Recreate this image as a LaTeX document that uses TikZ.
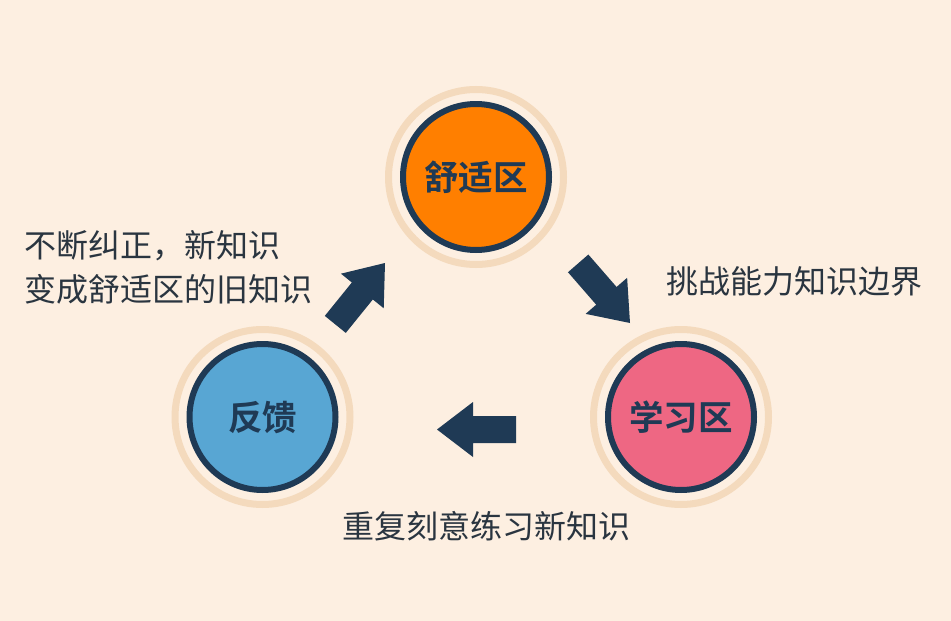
\documentclass[tikz,border=0pt]{standalone}
\usepackage{fontspec}
\newfontfamily\cjk{Noto Sans CJK SC}[BoldFont={Noto Sans CJK SC Bold}]
\definecolor{bg}{HTML}{FDEFE1}
\definecolor{halo}{HTML}{F4DABD}
\definecolor{navy}{HTML}{1F3A55}
\definecolor{orangez}{HTML}{FF7F00}
\definecolor{bluez}{HTML}{58A6D3}
\definecolor{pinkz}{HTML}{EE6783}
\definecolor{txt}{HTML}{2A3540}
\begin{document}
\begin{tikzpicture}[x=1pt,y=-1pt,
  zone/.style={circle, draw=navy, line width=6pt, minimum size=146pt, inner sep=0pt},
  halo/.style={draw=halo, line width=7pt},
  zonelabel/.style={font=\cjk\bfseries\fontsize{34.5}{34.5}\selectfont, text=navy, inner sep=0pt, anchor=base},
  note/.style={font=\cjk\fontsize{32}{32}\selectfont, text=txt, inner sep=0pt, anchor=base west},
  blockarrow/.style={fill=navy}
]
\fill[bg] (0,0) rectangle (951,621);
\useasboundingbox (0,0) rectangle (951,621);
% halos
\draw[halo] (476,177) circle[radius=87.5];
\draw[halo] (262.5,417) circle[radius=87.5];
\draw[halo] (681,417) circle[radius=87.5];
% zones
\node[zone, fill=orangez] (comfort) at (476,177) {};
\node[zone, fill=bluez] (feedback) at (262.5,417) {};
\node[zone, fill=pinkz] (learn) at (681,417) {};
\node[zonelabel] (comfortL) at (476,190) {舒适区};
\node[zonelabel] (feedbackL) at (262.5,430) {反馈};
\node[zonelabel] (learnL) at (681,430) {学习区};
% block arrows
\path[blockarrow, shift={(385,263)}, rotate=51]
  (0,0) -- (-36,27.5) -- (-36,13.5) -- (-79,13.5) -- (-79,-13.5) -- (-36,-13.5) -- (-36,-27.5) -- cycle;
\path[blockarrow, shift={(630,323)}, rotate=-49]
  (0,0) -- (-36,27.5) -- (-36,13.5) -- (-79,13.5) -- (-79,-13.5) -- (-36,-13.5) -- (-36,-27.5) -- cycle;
\path[blockarrow, shift={(437,429.5)}, rotate=180]
  (0,0) -- (-36,27.5) -- (-36,13.5) -- (-79,13.5) -- (-79,-13.5) -- (-36,-13.5) -- (-36,-27.5) -- cycle;
% notes
\node[note] (n1) at (24,257) {不断纠正，新知识};
\node[note] (n2) at (24,301) {变成舒适区的旧知识};
\node[note] (n3) at (666,293) {挑战能力知识边界};
\node[note] (n4) at (342,538) {重复刻意练习新知识};
\end{tikzpicture}
\end{document}
